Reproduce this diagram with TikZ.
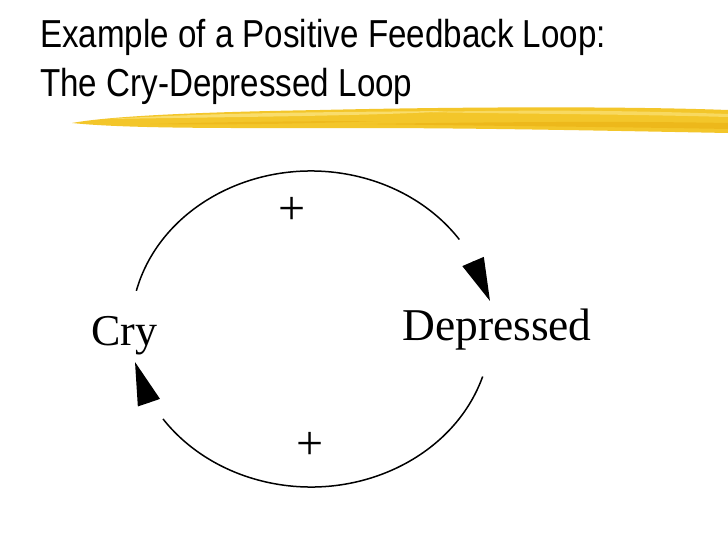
\documentclass[tikz,border=0pt]{standalone}
\usepackage{fontspec}
\setmainfont{Liberation Serif}
\newfontfamily\headfont[FakeStretch=0.85]{Liberation Sans}
\usepackage{xcolor}
\usepackage{tikz}
\usetikzlibrary{arrows.meta,positioning,calc}

\definecolor{brushgold}{RGB}{243,198,42}
\definecolor{brushlight}{RGB}{251,226,120}
\definecolor{brushdark}{RGB}{234,176,18}

\begin{document}
\begin{tikzpicture}[
x=1pt, y=1pt,
headline/.style={
    anchor=base west,
    inner sep=0pt,
    font=\headfont\fontsize{39}{49}\selectfont
},
var/.style={
    anchor=base west,
    inner sep=0pt,
    font=\fontsize{44}{50}\selectfont
},
sign/.style={inner sep=0pt, font=\fontsize{48}{50}\selectfont},
feedback/.style={-{Triangle[length=43pt,width=23pt]}, line width=1.5pt}
]
\fill[white] (0,0) rectangle (728,-546);
\useasboundingbox (0,0) rectangle (728,-546);

% title and brush stroke
\node[headline] (title1) at (40,-47) {Example of a Positive Feedback Loop:};
\node[headline] (title2) at ([yshift=-49pt]title1.base west) {The Cry-Depressed Loop};

\fill[brushgold] (72,-123) .. controls (110,-116) and (200,-112) .. (320,-110)
    .. controls (450,-107) and (620,-106) .. (728,-110) -- (728,-133)
    .. controls (620,-131) and (480,-128) .. (360,-128)
    .. controls (240,-128) and (130,-129) .. (72,-123) -- cycle;
\fill[brushlight, opacity=0.85] (110,-119) .. controls (200,-113) and (330,-112) .. (450,-111)
    .. controls (380,-116) and (220,-117) .. (110,-119) -- cycle;
\fill[brushlight, opacity=0.7] (420,-112) .. controls (520,-110) and (620,-110) .. (728,-114)
    -- (728,-117) .. controls (620,-114) and (520,-114) .. (420,-112) -- cycle;
\fill[brushdark, opacity=0.6] (360,-124) .. controls (500,-122) and (620,-121) .. (728,-123)
    -- (728,-129) .. controls (620,-127) and (500,-126) .. (360,-124) -- cycle;
\fill[brushdark, opacity=0.5] (150,-124) .. controls (220,-122) and (300,-121) .. (380,-121)
    .. controls (300,-124) and (220,-125) .. (150,-124) -- cycle;

% loop
\coordinate (ctr) at (311,-329);
\node[var] (cry) at (91,-345) {Cry};
\node[var, font=\fontsize{45.5}{50}\selectfont] (dep) at (402,-340) {Depressed};
\node[sign] (plustop) at (292,-211) {+};
\node[sign] (plusbot) at (310,-446) {+};

\coordinate (deptip) at (490,-301);
\coordinate (depback) at (472,-259);
\coordinate (crytip) at (135,-362);
\coordinate (cryback) at (148,-400);

\draw[feedback] ([shift={(166:180pt and 158pt)}]ctr)
    arc[start angle=166, end angle=34.5, x radius=180pt, y radius=158pt]
    ($(deptip)!43pt!(depback)$) -- (deptip);
\draw[feedback] ([shift={(-17.5:180pt and 158pt)}]ctr)
    arc[start angle=-17.5, end angle=-145.3, x radius=180pt, y radius=158pt]
    ($(crytip)!43pt!(cryback)$) -- (crytip);
\end{tikzpicture}
\end{document}
